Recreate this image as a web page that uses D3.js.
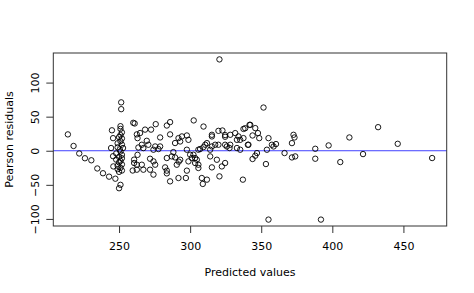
<!DOCTYPE html>
<html>
<head>
<meta charset="utf-8">
<script src="https://cdn.jsdelivr.net/npm/d3@7"></script>
<style>
  body { margin: 0; background: #fff; }
  svg text { font-family: "DejaVu Sans", sans-serif; }
</style>
</head>
<body>
<div id="viz-container"></div>
<script>
// fitted values (x) and Pearson residuals (y)
const predicted = [
  214, 218, 222, 226, 230.5, 234.7, 238.7, 243, 247.4,
  251.5, 251.5, 251, 251, 245, 252, 251, 245.8, 250, 252, 251, 249, 252, 244.4, 249, 252.8, 250.5,
  251, 248, 252, 245.8, 250, 252, 248, 251, 250, 252, 249, 246, 251, 249, 252, 250, 251, 250,
  260, 261, 259.6, 260.6, 260.6, 263,
  275.8, 285.9, 283.6, 272.5, 268.3, 264.8, 262.5, 278.9, 285.9, 263, 269.5, 297.7, 294.2, 291.8,
  293, 289.4, 298.8, 302.5, 266, 270.6, 263.6, 267.1, 275.4, 278.9, 277.7, 274.2, 297.7, 288.2,
  271.8, 274.2, 275.4, 283.6, 287.1, 289.4, 293, 300, 301.2, 298.8, 262.5, 266, 262.5, 267.1,
  271.8, 274.2, 282.4, 283.6, 283.6, 290.6, 292, 297.7, 285.9, 291.8, 297,
  309.4, 319.9, 322.7, 315.3, 315.3, 324.6, 324.6, 328.2, 331.7, 337.5, 334, 332.9, 335.2, 337.5,
  341.8, 341, 311.8, 310.6, 309.4, 307, 305.8, 315.3, 317.6, 314.1, 319.9, 324.6, 325.8, 327.7,
  332.9, 335.2, 328.2, 302.3, 303.5, 304.7, 303.5, 305.8, 305.8, 314.1, 318.8, 315.3, 324.6, 322.3,
  308.2, 311.8, 308.9, 320.6, 337.1, 320.6,
  351.6, 342.3, 345.8, 347.7, 343.9, 348.6, 338.7, 355.1, 340.6, 357.5, 358.7, 360.4, 354, 372.7,
  373.4, 371.6, 366.4, 371.6, 373.9, 347, 345.8, 343.9, 353.3, 355.1,
  388, 388, 397.4, 405.6, 412, 421.6, 392, 432.2, 446, 470.2
];
const residuals = [
  24, 7, -4, -11, -14, -26, -33, -38, -41,
  71, 61, 36, 32, 30, 27, 23, 18.5, 20, 18, 14, 11, 9, 4, 5, 4, 2,
  -1, -4, -6, -8, -9, -11, -13, -15, -17, -20, -22, -23, -25, -27, -29, -31, -50, -55,
  41, 40, -29, -13, -18, -6,
  39, 42, 37, 31, 31, 26, 24, 19.5, 24, 18.5, 14.6, 22.4, 21, 18.5,
  13.6, 11.3, 16, 44.5, 8.8, 8.8, 4.8, 3.9, 6.3, 6.3, 2.5, 1.5, 1.5, -2,
  -11.7, -15.6, -20.5, -10.7, -8.3, -9.8, -13.2, -5.8, -10.7, -15.6, -20.5, -20.5, -27.8, -27.8,
  -27.8, -35, -24.4, -29.2, -33.2, -20.5, -16, -29.2, -44.9, -40, -40,
  35.5, 29.2, 29.7, 23.4, 21, 23, 20.5, 23.4, 25.9, 32, 21, 16, 16, 18.5,
  38, 8.8, 11.2, 8.8, 5.4, 2.5, 1.5, 6.3, 8.8, 1.5, 8.8, 8.8, 6.3, 4,
  4, 1.5, 8.8, -5.8, -10.7, -13.2, -18, -20.5, -25.3, -8.3, -13.2, -24.4, -18, -23,
  -40, -42.4, -48.7, -37.6, -42.4, 134,
  63.4, 38, 33.2, 25.9, 22.4, 18.5, 33, 18.5, 8.8, 8.8, 6.3, 9.8, 1.5, 23.4,
  19.5, 11.2, -3.4, -9.8, -8.3, -3.4, -7.3, -12.1, -19.5, -101,
  2.9, -11.7, 7.8, -16.6, 19.5, -4.9, -101, 34.6, 10.2, -10.7
];
const xTicks = [250, 300, 350, 400, 450];
const yTicks = [-100, -50, 0, 50, 100];
const xTitle = "Predicted values";
const yTitle = "Pearson residuals";

const margin = {top: 53, right: 27.3, bottom: 67, left: 53.3},
  width = 474 - margin.left - margin.right,
  height = 293 - margin.top - margin.bottom;

// R style: data range widened by 4% on each side
function pad(ext) {
  const d = (ext[1] - ext[0]) * 0.04;
  return [ext[0] - d, ext[1] + d];
}

const points = predicted.map((p, i) => ({x: p, y: residuals[i]}));

const svg = d3.select("#viz-container").append("svg")
  .attr("width", 474)
  .attr("height", 293);

const g = svg.append("g")
  .attr("transform", `translate(${margin.left},${margin.top})`);

const x = d3.scaleLinear()
  .domain(pad(d3.extent(predicted)))
  .range([0, width]);

const y = d3.scaleLinear()
  .domain(pad(d3.extent(residuals)))
  .range([height, 0]);

g.append("g")
  .attr("transform", `translate(0,${height})`)
  .call(d3.axisBottom(x).tickValues(xTicks).tickSize(7).tickPadding(0))
  .call(a => a.select(".domain").remove())
  .call(a => a.selectAll(".tick line").attr("stroke", "#333"))
  .call(a => a.selectAll(".tick text")
    .attr("y", 24)
    .attr("dy", null)
    .attr("fill", "#000")
    .attr("font-size", 11));

g.append("g")
  .call(d3.axisLeft(y).tickValues(yTicks).tickSize(7))
  .call(a => a.select(".domain").remove())
  .call(a => a.selectAll(".tick line").attr("stroke", "#333"))
  .call(a => a.selectAll(".tick text")
    .attr("x", null)
    .attr("dy", "0.36em")
    .attr("transform", "translate(-18.3,0) rotate(-90)")
    .attr("text-anchor", "middle")
    .attr("fill", "#000")
    .attr("font-size", 11));

// zero line
g.append("line")
  .attr("x1", 0)
  .attr("x2", width)
  .attr("y1", y(0))
  .attr("y2", y(0))
  .attr("stroke", "#4040ff")
  .attr("stroke-width", 1);

g.append("g")
  .selectAll("circle")
  .data(points)
  .join("circle")
    .attr("cx", d => x(d.x))
    .attr("cy", d => y(d.y))
    .attr("r", 2.7)
    .attr("fill", "none")
    .attr("stroke", "#000")
    .attr("stroke-width", 0.9);

g.append("rect")
  .attr("width", width)
  .attr("height", height)
  .attr("fill", "none")
  .attr("stroke", "#333")
  .attr("stroke-width", 1);

svg.append("text")
  .attr("x", margin.left + width / 2)
  .attr("y", 276)
  .attr("text-anchor", "middle")
  .attr("font-size", 11)
  .text(xTitle);

svg.append("text")
  .attr("transform", `translate(13,${margin.top + height / 2}) rotate(-90)`)
  .attr("text-anchor", "middle")
  .attr("font-size", 11)
  .text(yTitle);
</script>
</body>
</html>
